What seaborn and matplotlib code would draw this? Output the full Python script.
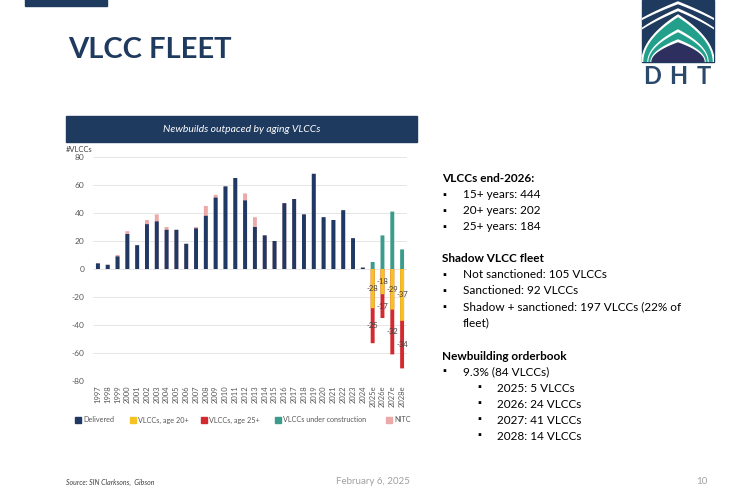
import numpy as np
import pandas as pd
import matplotlib
matplotlib.use('Agg')
import matplotlib.pyplot as plt
import seaborn as sns
from matplotlib.patches import Rectangle, Polygon

# Daten
years = ['1997', '1998', '1999', '2000', '2001', '2002', '2003', '2004', '2005', '2006',
         '2007', '2008', '2009', '2010', '2011', '2012', '2013', '2014', '2015', '2016',
         '2017', '2018', '2019', '2020', '2021', '2022', '2023', '2024',
         '2025e', '2026e', '2027e', '2028e']
delivered = [4, 3, 9, 25, 17, 32, 34, 28, 28, 18, 29, 38, 51, 59, 65, 49, 30, 24, 20, 47,
             50, 39, 68, 37, 35, 42, 22, 1, 0, 0, 0, 0]
nitc = [0, 0, 1, 2, 0, 3, 5, 2, 0, 0, 1, 7, 2, 0, 0, 5, 7, 0, 0, 0,
        0, 0, 0, 0, 0, 0, 0, 0, 0, 0, 0, 0]
under_construction = [0, 0, 0, 0, 0, 0, 0, 0, 0, 0, 0, 0, 0, 0, 0, 0, 0, 0, 0, 0,
                      0, 0, 0, 0, 0, 0, 0, 0, 5, 24, 41, 14]
age_20 = [0, 0, 0, 0, 0, 0, 0, 0, 0, 0, 0, 0, 0, 0, 0, 0, 0, 0, 0, 0,
          0, 0, 0, 0, 0, 0, 0, 0, -28, -18, -29, -37]
age_25 = [0, 0, 0, 0, 0, 0, 0, 0, 0, 0, 0, 0, 0, 0, 0, 0, 0, 0, 0, 0,
          0, 0, 0, 0, 0, 0, 0, 0, -25, -17, -32, -34]

legend_labels = ['Delivered', 'VLCCs, age 20+', 'VLCCs, age 25+', 'VLCCs under construction', 'NITC']

NAVY = '#203864'
YELLOW = '#F4C320'
RED = '#D42A2F'
TEAL = '#3C9C8C'
PINK = '#EBA9A8'
TXT = '#595959'

sns.set_theme(style='white')
plt.rcParams['font.family'] = ['Lato', 'DejaVu Sans']
plt.rcParams['axes.unicode_minus'] = False

df = pd.DataFrame({'year': years, 'delivered': delivered, 'nitc': nitc,
                   'construction': under_construction, 'age_20': age_20, 'age_25': age_25})
df['top'] = df['delivered'] + df['nitc']
df['low'] = df['age_20'] + df['age_25']

fig = plt.figure(figsize=(7.43, 4.88), dpi=100)

# Hintergrund-Achse in Pixelkoordinaten (Folie)
bg = fig.add_axes([0, 0, 1, 1])
bg.set_xlim(0, 743)
bg.set_ylim(488, 0)
bg.axis('off')

ax = fig.add_axes([93 / 743, 1 - 381 / 488, 314 / 743, 224 / 488])
ax.patch.set_alpha(0)

# Gestapelte Balken (hinten nach vorne)
bw = 0.4
for col, c in [('top', PINK), ('delivered', NAVY), ('construction', TEAL), ('low', RED), ('age_20', YELLOW)]:
    sns.barplot(data=df, x='year', y=col, order=years, color=c, width=bw, saturation=1,
                errorbar=None, ax=ax, snap=False, linewidth=0)

# Datenbeschriftungen
ax.bar_label(ax.containers[-1], labels=[str(v) if v else '' for v in age_20],
             label_type='center', fontsize=5.5, color='#404040')
for i, (a, b) in enumerate(zip(age_20, age_25)):
    if b:
        ax.text(i, a + b / 2, str(b), ha='center', va='center', fontsize=5.5, color='#404040')

ax.set_xlim(-0.5, len(years) - 0.5)
ax.set_ylim(-80, 80)
ax.set_yticks(range(-80, 81, 20))
ax.yaxis.grid(True, color='#E2E2E2', lw=0.6)
ax.set_axisbelow(True)
for s in ax.spines.values():
    s.set_visible(False)
ax.set_xlabel('')
ax.set_ylabel('')
ax.tick_params(axis='y', length=0, labelsize=6, labelcolor=TXT, pad=6)
ax.tick_params(axis='x', length=0, labelsize=5.5, labelcolor=TXT, rotation=90, pad=3)

# Titelbalken
bg.add_patch(Rectangle((66, 116), 351, 26, color='#1F3A5F', zorder=1))
bg.text(241.5, 129, 'Newbuilds outpaced by aging VLCCs', ha='center', va='center',
        color='white', fontsize=7.5, style='italic')
bg.text(66, 149, '#VLCCs', ha='left', va='center', fontsize=5.5, color='#404040')

# Legende (Positionen wie in der Vorlage)
for x, c, lab in zip([78, 133, 204, 278, 389], [NAVY, YELLOW, RED, TEAL, PINK], legend_labels):
    bg.plot([x], [420], marker='s', ms=3.8, color=c, ls='')
    bg.text(x + 5, 420, lab, fontsize=5.2, va='center', ha='left', color=TXT)

# Folientitel
bg.text(68, 50, 'VLCC FLEET', ha='left', va='center', fontsize=21, fontweight='bold', color='#1F3A5F')
bg.add_patch(Rectangle((25, -2), 82, 8, color='#1F3A5F'))

# Textblock rechts
fs = 8.5
bg.text(442, 178, 'VLCCs end-2026:', fontsize=fs, fontweight='bold', va='center', color='black')
bg.text(442, 259, 'Shadow VLCC fleet', fontsize=fs, fontweight='bold', va='center', color='black')
bg.text(442, 356, 'Newbuilding orderbook', fontsize=fs, fontweight='bold', va='center', color='black')
lvl1 = [(195, '15+ years: 444'), (211, '20+ years: 202'), (227, '25+ years: 184'),
        (275, 'Not sanctioned: 105 VLCCs'), (291, 'Sanctioned: 92 VLCCs'),
        (307, 'Shadow + sanctioned: 197 VLCCs (22% of'), (372, '9.3% (84 VLCCs)')]
for y, t in lvl1:
    bg.text(444, y, '\u25aa', fontsize=7, va='center', ha='center', color='black')
    bg.text(463, y, t, fontsize=fs, va='center', color='black')
bg.text(463, 323, 'fleet)', fontsize=fs, va='center', color='black')
lvl2 = [(388, '2025: 5 VLCCs'), (404, '2026: 24 VLCCs'), (420, '2027: 41 VLCCs'), (436, '2028: 14 VLCCs')]
for y, t in lvl2:
    bg.text(479, y, '\u25aa', fontsize=7, va='center', ha='center', color='black')
    bg.text(497, y, t, fontsize=fs, va='center', color='black')

# Fusszeile
bg.text(66, 482, 'Source: SIN Clarksons,  Gibson', fontsize=5, style='italic', va='center', color='#404040')
bg.text(336, 482, 'February 6, 2025', fontsize=7, va='center', color='#A0A0A0')
bg.text(696, 482, '10', fontsize=7, va='center', color='#A0A0A0')

# Logo (vereinfacht)
clip = Rectangle((642, 0), 72, 62, transform=bg.transData)
bg.add_patch(Rectangle((642, 0), 72, 62, color='#1F3A5F', zorder=2))


def arch(cx, base, top, w):
    yy = np.linspace(top, base, 40)
    s = ((base - yy) / (base - top)) ** 2
    xl = cx - w * (1 - s)
    xr = cx + w * (1 - s)
    return np.column_stack([np.concatenate([xl[::-1], xr]), np.concatenate([yy[::-1], yy])])


for top, w, col in [(2, 75, 'white'), (5, 75, '#1F3A5F'), (9, 60, 'white'), (12, 60, '#1F3A5F'),
                    (15, 36, 'white'), (18, 34, '#23A08C'), (30, 30, 'white'), (33, 29, '#23A08C'),
                    (40, 27, 'white'), (43, 26, '#2D2F5E')]:
    p = Polygon(arch(678, 62, top, w), closed=True, color=col, zorder=3)
    bg.add_patch(p)
    p.set_clip_path(clip)
for x, ch in zip([652, 678, 704], 'DHT'):
    bg.text(x, 77, ch, ha='center', va='center', fontsize=17, color='#2B4A6B', fontweight='bold')

fig.savefig('out.png', dpi=100)
